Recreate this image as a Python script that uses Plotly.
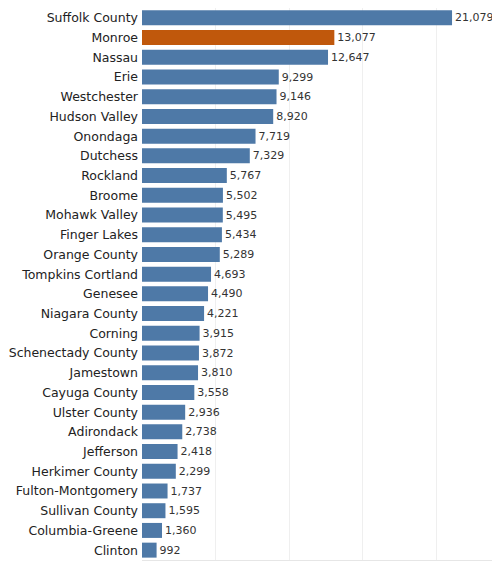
import plotly.graph_objects as go

categories = ["Suffolk County", "Monroe", "Nassau", "Erie", "Westchester", "Hudson Valley",
              "Onondaga", "Dutchess", "Rockland", "Broome", "Mohawk Valley", "Finger Lakes",
              "Orange County", "Tompkins Cortland", "Genesee", "Niagara County", "Corning",
              "Schenectady County", "Jamestown", "Cayuga County", "Ulster County", "Adirondack",
              "Jefferson", "Herkimer County", "Fulton-Montgomery", "Sullivan County",
              "Columbia-Greene", "Clinton"]
values = [21079, 13077, 12647, 9299, 9146, 8920, 7719, 7329, 5767, 5502, 5495, 5434,
          5289, 4693, 4490, 4221, 3915, 3872, 3810, 3558, 2936, 2738, 2418, 2299, 1737,
          1595, 1360, 992]
highlight = "Monroe"

BLUE = "#4E79A7"
ORANGE = "#C0580C"
colors = [ORANGE if c == highlight else BLUE for c in categories]

fig = go.Figure(go.Bar(
    x=values, y=categories, orientation="h",
    marker=dict(color=colors, line=dict(width=0)),
    text=[f"{v:,}" for v in values], textposition="outside",
    textfont=dict(family="DejaVu Sans", size=11, color="#333333"),
    cliponaxis=False, width=0.76,
))

fig.update_layout(
    width=492, height=558,
    margin=dict(l=134, r=0, t=0, b=6),
    paper_bgcolor="white", plot_bgcolor="white",
    showlegend=False,
    xaxis=dict(range=[0, 24340], showticklabels=False, showgrid=True,
               gridcolor="#EFEFEF", gridwidth=1, dtick=5000, zeroline=False,
               showline=True, linecolor="#E6E6E6", linewidth=1, ticks="",
               automargin=False),
    yaxis=dict(autorange="reversed", showgrid=False, zeroline=False, ticks="",
               tickfont=dict(family="DejaVu Sans", size=12.5, color="#222222"),
               ticklabelstandoff=3, showline=False, automargin=False),
    font=dict(family="DejaVu Sans"),
)

fig.write_html("out.html")
